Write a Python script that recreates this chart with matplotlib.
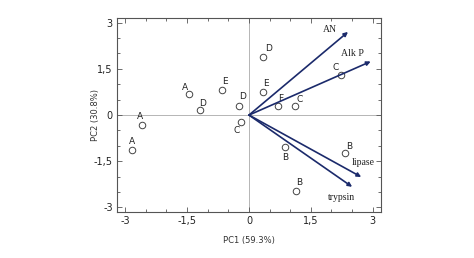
import numpy as np
import matplotlib
matplotlib.use("Agg")
import matplotlib.pyplot as plt
from matplotlib.ticker import MultipleLocator, FuncFormatter

# sample scores (PC1, PC2) with group letter
score_labels = ["A", "A", "A", "D", "E", "D", "C", "D", "E", "F", "C", "C", "B", "B", "B"]
pc1_scores = [-2.83, -2.60, -1.45, -1.19, -0.65, -0.25, -0.20, 0.34, 0.34, 0.70, 1.12, 2.24, 0.87, 2.33, 1.15]
pc2_scores = [-1.12, -0.32, 0.67, 0.15, 0.81, 0.30, -0.23, 1.90, 0.76, 0.28, 0.28, 1.31, -1.03, -1.23, -2.45]

# variable loadings (arrows)
loading_names = ["AN", "Alk P", "lipase", "trypsin"]
loading_pc1 = [2.40, 2.95, 2.72, 2.50]
loading_pc2 = [2.70, 1.74, -2.01, -2.33]

# label offsets in points, relative to each point
score_offsets = [(0, 6), (-1, 6), (-3, 5), (2, 5), (2, 6), (3, 7), (-3, -6),
                 (4, 6), (2, 6), (2, 6), (3, 5), (-4, 5), (0, -8), (3, 5), (2, 6)]
loading_label_pos = [(1.97, 2.79), (2.51, 1.99), (2.78, -1.55), (2.24, -2.69)]

NAVY = "#1b2a6b"
GREY = "#555555"

fig = plt.figure(figsize=(4.74, 2.58), dpi=100)
ax = fig.add_axes([0.2468, 0.178, 0.557, 0.752])

ax.axhline(0, color="#b5b5b5", lw=0.7, zorder=0)
ax.axvline(0, color="#b5b5b5", lw=0.7, zorder=0)

ax.scatter(pc1_scores, pc2_scores, s=22, facecolors="white", edgecolors="#444444", lw=0.7, zorder=3)
for x, y, lab, off in zip(pc1_scores, pc2_scores, score_labels, score_offsets):
    ax.annotate(lab, (x, y), xytext=off, textcoords="offset points", ha="center", va="center",
                fontsize=6.5, color="#222222", family="DejaVu Sans")

for x, y in zip(loading_pc1, loading_pc2):
    ax.annotate("", xy=(x, y), xytext=(0, 0),
                arrowprops=dict(arrowstyle="-|>", color=NAVY, lw=1.2,
                                mutation_scale=6, shrinkA=0, shrinkB=0), zorder=4)
for name, (lx, ly) in zip(loading_names, loading_label_pos):
    ax.text(lx, ly, name, fontsize=7, family="Liberation Serif", color="#222222",
            ha="center", va="center")

ax.set_xlim(-3.2, 3.2)
ax.set_ylim(-3.15, 3.15)
comma = FuncFormatter(lambda v, _: f"{v:g}".replace(".", ","))
for axis in (ax.xaxis, ax.yaxis):
    axis.set_major_locator(MultipleLocator(1.5))
    axis.set_minor_locator(MultipleLocator(0.5))
    axis.set_major_formatter(comma)
ax.tick_params(which="both", direction="in", top=True, right=True, color=GREY, width=0.6)
ax.tick_params(which="major", length=3.5, labelsize=7, labelcolor="#222222", pad=3)
ax.tick_params(which="minor", length=2)
for sp in ax.spines.values():
    sp.set_color(GREY)
    sp.set_linewidth(0.8)

ax.set_xlabel("PC1 (59.3%)", fontsize=6, color="#333333", va="center")
ax.set_ylabel("PC2 (30.8%)", fontsize=6, color="#333333", va="center")
ax.xaxis.set_label_coords(0.5, -0.144)
ax.yaxis.set_label_coords(-0.083, 0.5)

fig.savefig("out.png", dpi=100)
